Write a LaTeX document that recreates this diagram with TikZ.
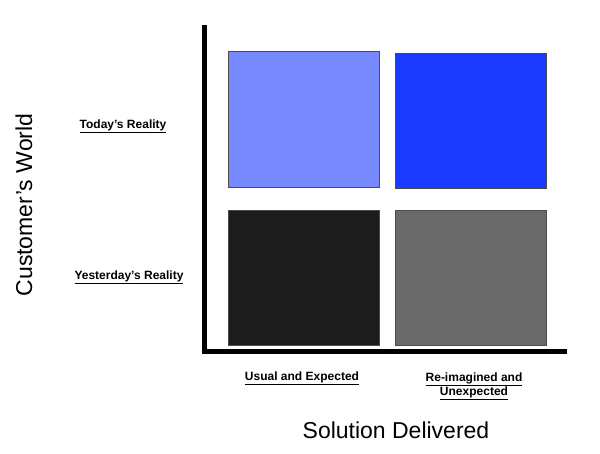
\documentclass[tikz,border=0pt]{standalone}
\usepackage{fontspec}
\setmainfont{Liberation Sans}
\begin{document}
\begin{tikzpicture}[x=1pt,y=-1pt,
  cell/.style={draw=black!70,line width=0.6pt},
  lbl/.style={font=\fontsize{12}{14}\selectfont\bfseries,align=center},
  big/.style={font=\fontsize{23}{26}\selectfont}]
\useasboundingbox (0,0) rectangle (600,454);
\definecolor{c1}{HTML}{7788FF}
\definecolor{c2}{HTML}{1A3AFF}
\definecolor{c3}{HTML}{1C1C1C}
\definecolor{c4}{HTML}{696969}
\fill[cell,fill=c1] (228,51) rectangle (379,187);
\fill[cell,fill=c2] (395,53) rectangle (546,188);
\fill[cell,fill=c3] (228,210) rectangle (379,345);
\fill[cell,fill=c4] (395,210) rectangle (546,345);
\coordinate (top) at (204,25);
\coordinate (org) at (204,352);
\coordinate (right) at (567,352);
\draw[line width=5pt] (top) -- (org) -- (right);
\node[lbl] (t) at (123,126) {\underline{Today’s Reality}};
\node[lbl] (y) at (129,277) {\underline{Yesterday’s Reality}};
\node[lbl] (u) at (302,378) {\underline{Usual and Expected}};
\node[lbl] (r) at (474,386) {\underline{Re-imagined and}\\\underline{Unexpected}};
\node[big] (s) at (396,430) {Solution Delivered};
\node[big,rotate=90] (c) at (24,205) {Customer's World};
\end{tikzpicture}
\end{document}
